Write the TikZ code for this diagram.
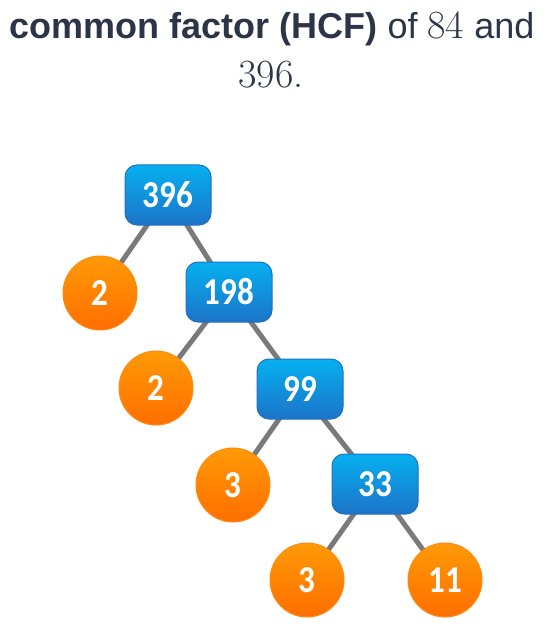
\documentclass[tikz,border=0pt]{standalone}
\usepackage{fontspec}
\newfontfamily\titlefont{Liberation Sans}
\newfontfamily\numfont[FakeStretch=0.87]{Carlito}
\usetikzlibrary{backgrounds}
\definecolor{titlecol}{HTML}{2B3547}
\definecolor{boxtop}{HTML}{05B0F0}
\definecolor{boxbot}{HTML}{1C74C8}
\definecolor{boxedge}{HTML}{2370C0}
\definecolor{orgtop}{HTML}{FF9A05}
\definecolor{orgbot}{HTML}{FF6E00}
\definecolor{orgedge}{HTML}{FF8A10}
\definecolor{edgegray}{HTML}{7A7A7A}
\tikzset{
  numbox/.style={draw=boxedge, line width=1pt, rounded corners=12pt,
    top color=boxtop, bottom color=boxbot, minimum width=86pt,
    minimum height=60pt, inner sep=0pt, text=white,
    font=\numfont\bfseries\fontsize{38}{38}\selectfont},
  numcirc/.style={circle, draw=orgedge, line width=1pt,
    top color=orgtop, bottom color=orgbot, minimum size=74pt,
    inner sep=0pt, text=white, font=\numfont\bfseries\fontsize{38}{38}\selectfont},
  link/.style={draw=edgegray, line width=5pt},
  titletext/.style={text=titlecol, inner sep=0pt, anchor=base}
}
\begin{document}
\begin{tikzpicture}[x=1pt,y=-1pt]
\useasboundingbox (0,0) rectangle (556,628);
\node[titletext, font=\titlefont\fontsize{36}{36}\selectfont] (t1) at (272,39)
  {\textbf{common factor (HCF)} of {\rmfamily\fontsize{40}{40}\selectfont 84} and};
\node[titletext, font=\rmfamily\fontsize{40}{40}\selectfont] (t2) at (271,88) {396.};
\node[numbox] (n396) at (168,195) {396};
\node[numbox] (n198) at (229,292) {198};
\node[numbox] (n99) at (300,389) {99};
\node[numbox] (n33) at (375,484) {33};
\node[numcirc] (c2a) at (100,293) {2};
\node[numcirc] (c2b) at (156,388) {2};
\node[numcirc] (c3a) at (233,485) {3};
\node[numcirc] (c3b) at (307,580) {3};
\node[numcirc] (c11) at (445,580) {11};
\begin{scope}[on background layer]
\draw[link] (n396.center) -- (c2a.center);
\draw[link] (n396.center) -- (n198.center);
\draw[link] (n198.center) -- (c2b.center);
\draw[link] (n198.center) -- (n99.center);
\draw[link] (n99.center) -- (c3a.center);
\draw[link] (n99.center) -- (n33.center);
\draw[link] (n33.center) -- (c3b.center);
\draw[link] (n33.center) -- (c11.center);
\end{scope}
\end{tikzpicture}
\end{document}
